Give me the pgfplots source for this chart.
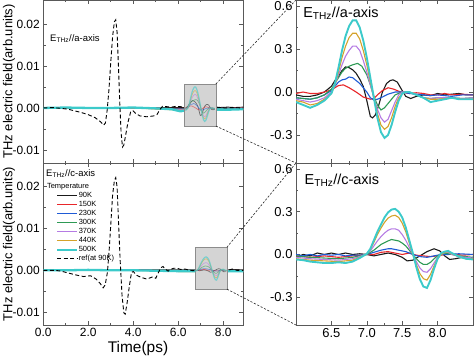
\documentclass[border=0pt]{standalone}
\usepackage{fontspec}
\setmainfont{Liberation Sans}
\usepackage{pgfplots}
\pgfplotsset{compat=1.18}
\usepackage{pgfplotstable}

\definecolor{cK}{HTML}{1A1A1A}
\definecolor{cR}{HTML}{E8262A}
\definecolor{cB}{HTML}{1F5BD6}
\definecolor{cG}{HTML}{2E9A55}
\definecolor{cP}{HTML}{B57BE3}
\definecolor{cO}{HTML}{D4A22A}
\definecolor{cT}{HTML}{3CCACA}

% ---------- a-axis (zoom) ----------
\pgfplotstableread[row sep=\\]{t v\\
6.0 -0.02\\ 6.1 -0.03\\ 6.2 -0.03\\ 6.3 -0.02\\ 6.4 0.0\\ 6.5 0.04\\ 6.55 0.08\\ 6.6 0.11\\ 6.65 0.15\\ 6.7 0.175\\ 6.75 0.17\\ 6.8 0.155\\ 6.85 0.13\\ 6.9 0.09\\ 6.95 0.04\\ 7.0 -0.06\\ 7.05 -0.17\\ 7.08 -0.18\\ 7.12 -0.16\\ 7.17 -0.09\\ 7.22 0.0\\ 7.28 0.06\\ 7.33 0.08\\ 7.37 0.085\\ 7.43 0.07\\ 7.5 0.01\\ 7.55 -0.03\\ 7.62 -0.045\\ 7.7 -0.03\\ 7.8 -0.02\\ 7.9 -0.025\\ 8.0 -0.01\\ 8.1 -0.02\\ 8.2 -0.015\\ 8.3 -0.01\\ 8.4 -0.02\\ 8.5 -0.02\\
}\aK
\pgfplotstableread[row sep=\\]{t v\\
6.0 -0.01\\ 6.1 0.0\\ 6.2 -0.01\\ 6.3 -0.01\\ 6.4 0.0\\ 6.5 0.015\\ 6.6 0.045\\ 6.67 0.05\\ 6.75 0.03\\ 6.85 0.0\\ 6.95 -0.035\\ 7.05 -0.05\\ 7.1 -0.045\\ 7.15 -0.02\\ 7.22 0.01\\ 7.3 0.03\\ 7.38 0.02\\ 7.48 0.0\\ 7.6 -0.01\\ 7.7 -0.005\\ 7.8 -0.01\\ 7.9 -0.02\\ 8.0 -0.02\\ 8.1 -0.01\\ 8.2 -0.02\\ 8.35 -0.015\\ 8.5 -0.02\\
}\aR
\pgfplotstableread[row sep=\\]{t v\\
6.0 -0.04\\ 6.1 -0.045\\ 6.2 -0.05\\ 6.3 -0.04\\ 6.4 -0.02\\ 6.5 0.01\\ 6.6 0.07\\ 6.65 0.085\\ 6.7 0.09\\ 6.75 0.105\\ 6.8 0.10\\ 6.85 0.08\\ 6.9 0.06\\ 6.95 0.03\\ 7.0 0.0\\ 7.05 -0.04\\ 7.1 -0.056\\ 7.15 -0.05\\ 7.2 -0.04\\ 7.3 -0.015\\ 7.4 0.0\\ 7.5 0.0\\ 7.6 -0.01\\ 7.7 -0.015\\ 7.8 -0.02\\ 7.9 -0.025\\ 8.0 -0.02\\ 8.1 -0.025\\ 8.2 -0.03\\ 8.35 -0.02\\ 8.5 -0.02\\
}\aB
\pgfplotstableread[row sep=\\]{t v\\
6.0 -0.04\\ 6.1 -0.045\\ 6.2 -0.05\\ 6.3 -0.04\\ 6.4 -0.02\\ 6.5 0.02\\ 6.6 0.10\\ 6.65 0.14\\ 6.7 0.165\\ 6.75 0.18\\ 6.8 0.19\\ 6.87 0.20\\ 6.93 0.18\\ 7.0 0.12\\ 7.05 0.05\\ 7.1 -0.03\\ 7.15 -0.09\\ 7.2 -0.125\\ 7.25 -0.11\\ 7.3 -0.08\\ 7.35 -0.05\\ 7.4 -0.02\\ 7.5 0.0\\ 7.6 0.0\\ 7.7 -0.02\\ 7.8 -0.04\\ 7.9 -0.045\\ 8.0 -0.04\\ 8.2 -0.04\\ 8.35 -0.045\\ 8.5 -0.04\\
}\aG
\pgfplotstableread[row sep=\\]{t v\\
6.0 -0.05\\ 6.1 -0.06\\ 6.2 -0.07\\ 6.3 -0.06\\ 6.4 -0.04\\ 6.5 0.0\\ 6.55 0.05\\ 6.6 0.12\\ 6.65 0.19\\ 6.7 0.25\\ 6.75 0.29\\ 6.8 0.32\\ 6.85 0.32\\ 6.9 0.29\\ 6.95 0.22\\ 7.0 0.14\\ 7.05 0.05\\ 7.1 -0.04\\ 7.15 -0.12\\ 7.2 -0.18\\ 7.25 -0.21\\ 7.3 -0.19\\ 7.35 -0.13\\ 7.4 -0.07\\ 7.45 -0.02\\ 7.5 0.0\\ 7.6 0.0\\ 7.7 -0.02\\ 7.8 -0.04\\ 7.9 -0.045\\ 8.0 -0.04\\ 8.2 -0.04\\ 8.35 -0.045\\ 8.5 -0.04\\
}\aP
\pgfplotstableread[row sep=\\]{t v\\
6.0 -0.06\\ 6.1 -0.07\\ 6.2 -0.09\\ 6.3 -0.08\\ 6.4 -0.05\\ 6.5 -0.01\\ 6.55 0.05\\ 6.6 0.14\\ 6.65 0.24\\ 6.7 0.32\\ 6.75 0.38\\ 6.8 0.41\\ 6.85 0.41\\ 6.9 0.37\\ 6.95 0.29\\ 7.0 0.19\\ 7.05 0.07\\ 7.1 -0.04\\ 7.15 -0.15\\ 7.2 -0.23\\ 7.25 -0.26\\ 7.3 -0.24\\ 7.35 -0.18\\ 7.4 -0.10\\ 7.45 -0.04\\ 7.5 -0.01\\ 7.55 0.0\\ 7.6 0.0\\ 7.7 -0.02\\ 7.8 -0.04\\ 7.9 -0.05\\ 8.0 -0.05\\ 8.2 -0.04\\ 8.35 -0.05\\ 8.5 -0.05\\
}\aO
\pgfplotstableread[row sep=\\]{t v\\
6.0 -0.07\\ 6.1 -0.09\\ 6.2 -0.11\\ 6.3 -0.09\\ 6.4 -0.06\\ 6.5 -0.01\\ 6.55 0.06\\ 6.6 0.17\\ 6.65 0.29\\ 6.7 0.39\\ 6.75 0.46\\ 6.8 0.50\\ 6.85 0.50\\ 6.9 0.45\\ 6.95 0.36\\ 7.0 0.24\\ 7.05 0.10\\ 7.1 -0.04\\ 7.15 -0.18\\ 7.2 -0.28\\ 7.25 -0.32\\ 7.3 -0.30\\ 7.35 -0.23\\ 7.4 -0.14\\ 7.45 -0.06\\ 7.5 -0.01\\ 7.55 0.0\\ 7.6 0.0\\ 7.7 -0.02\\ 7.8 -0.04\\ 7.9 -0.07\\ 8.0 -0.06\\ 8.1 -0.05\\ 8.2 -0.04\\ 8.3 -0.05\\ 8.4 -0.05\\ 8.5 -0.05\\
}\aT

% ---------- c-axis (zoom) ----------
\pgfplotstableread[row sep=\\]{t v\\
6.0 -0.02\\ 6.1 0.0\\ 6.2 -0.01\\ 6.3 0.01\\ 6.4 0.0\\ 6.5 0.01\\ 6.6 0.0\\ 6.7 0.01\\ 6.8 0.0\\ 6.9 0.005\\ 7.0 0.0\\ 7.1 -0.01\\ 7.2 0.0\\ 7.3 0.01\\ 7.4 0.0\\ 7.5 -0.02\\ 7.57 -0.045\\ 7.65 -0.04\\ 7.75 -0.01\\ 7.85 0.02\\ 7.95 0.04\\ 8.03 0.025\\ 8.1 -0.01\\ 8.17 -0.035\\ 8.25 -0.03\\ 8.35 -0.02\\ 8.42 -0.03\\ 8.5 -0.02\\
}\cK
\pgfplotstableread[row sep=\\]{t v\\
6.0 -0.01\\ 6.2 -0.02\\ 6.4 -0.01\\ 6.6 -0.02\\ 6.8 -0.01\\ 7.0 0.0\\ 7.1 0.0\\ 7.2 0.015\\ 7.3 0.02\\ 7.4 0.01\\ 7.5 0.0\\ 7.6 0.01\\ 7.7 -0.005\\ 7.8 -0.01\\ 7.9 -0.015\\ 8.0 -0.01\\ 8.1 0.0\\ 8.2 0.005\\ 8.35 -0.005\\ 8.5 0.0\\
}\cR
\pgfplotstableread[row sep=\\]{t v\\
6.0 0.0\\ 6.1 -0.01\\ 6.2 0.0\\ 6.3 -0.01\\ 6.4 0.0\\ 6.5 -0.005\\ 6.6 0.0\\ 6.7 -0.01\\ 6.8 -0.005\\ 6.9 -0.005\\ 7.0 0.0\\ 7.1 0.015\\ 7.2 0.03\\ 7.3 0.04\\ 7.35 0.04\\ 7.45 0.03\\ 7.55 0.02\\ 7.65 0.0\\ 7.75 -0.015\\ 7.85 -0.02\\ 7.95 -0.01\\ 8.05 0.0\\ 8.15 0.0\\ 8.3 0.005\\ 8.5 0.0\\
}\cB
\pgfplotstableread[row sep=\\]{t v\\
6.0 -0.01\\ 6.2 -0.02\\ 6.4 -0.025\\ 6.6 -0.03\\ 6.8 -0.02\\ 6.9 -0.01\\ 7.0 0.0\\ 7.1 0.03\\ 7.2 0.07\\ 7.3 0.095\\ 7.35 0.105\\ 7.4 0.10\\ 7.45 0.095\\ 7.5 0.08\\ 7.55 0.06\\ 7.6 0.03\\ 7.65 0.0\\ 7.7 -0.03\\ 7.75 -0.055\\ 7.8 -0.07\\ 7.85 -0.07\\ 7.9 -0.055\\ 7.95 -0.03\\ 8.0 -0.01\\ 8.1 0.01\\ 8.2 0.0\\ 8.3 -0.01\\ 8.5 -0.02\\
}\cG
\pgfplotstableread[row sep=\\]{t v\\
6.0 -0.02\\ 6.2 -0.03\\ 6.4 -0.035\\ 6.6 -0.04\\ 6.8 -0.03\\ 6.9 -0.015\\ 7.0 0.005\\ 7.05 0.025\\ 7.1 0.06\\ 7.15 0.095\\ 7.2 0.125\\ 7.25 0.15\\ 7.3 0.17\\ 7.35 0.18\\ 7.4 0.18\\ 7.45 0.17\\ 7.5 0.14\\ 7.55 0.10\\ 7.6 0.05\\ 7.65 0.0\\ 7.7 -0.05\\ 7.75 -0.095\\ 7.8 -0.12\\ 7.85 -0.125\\ 7.9 -0.10\\ 7.95 -0.06\\ 8.0 -0.02\\ 8.05 0.0\\ 8.1 0.015\\ 8.15 0.015\\ 8.2 0.0\\ 8.3 -0.015\\ 8.5 -0.025\\
}\cP
\pgfplotstableread[row sep=\\]{t v\\
6.0 -0.03\\ 6.2 -0.04\\ 6.4 -0.045\\ 6.6 -0.05\\ 6.8 -0.04\\ 6.9 -0.02\\ 7.0 0.005\\ 7.05 0.035\\ 7.1 0.085\\ 7.15 0.14\\ 7.2 0.185\\ 7.25 0.225\\ 7.3 0.255\\ 7.35 0.27\\ 7.4 0.275\\ 7.45 0.26\\ 7.5 0.22\\ 7.55 0.16\\ 7.6 0.08\\ 7.65 0.0\\ 7.7 -0.07\\ 7.75 -0.135\\ 7.8 -0.17\\ 7.85 -0.18\\ 7.9 -0.14\\ 7.95 -0.08\\ 8.0 -0.03\\ 8.05 0.0\\ 8.1 0.015\\ 8.15 0.02\\ 8.2 0.005\\ 8.3 -0.015\\ 8.4 -0.03\\ 8.5 -0.03\\
}\cO
\pgfplotstableread[row sep=\\]{t v\\
6.0 -0.035\\ 6.1 -0.04\\ 6.2 -0.05\\ 6.3 -0.055\\ 6.4 -0.06\\ 6.5 -0.06\\ 6.6 -0.055\\ 6.7 -0.06\\ 6.8 -0.05\\ 6.9 -0.025\\ 7.0 0.005\\ 7.05 0.04\\ 7.1 0.10\\ 7.15 0.16\\ 7.2 0.21\\ 7.25 0.26\\ 7.3 0.295\\ 7.35 0.315\\ 7.4 0.32\\ 7.45 0.30\\ 7.5 0.26\\ 7.55 0.19\\ 7.6 0.10\\ 7.65 0.01\\ 7.7 -0.09\\ 7.75 -0.175\\ 7.8 -0.225\\ 7.85 -0.235\\ 7.9 -0.18\\ 7.95 -0.10\\ 8.0 -0.03\\ 8.05 0.01\\ 8.1 0.02\\ 8.15 0.025\\ 8.2 0.01\\ 8.3 -0.015\\ 8.4 -0.03\\ 8.5 -0.035\\
}\cT

% ---------- reference pulses ----------
\pgfplotstableread[row sep=\\]{t v\\
0 0\\ 0.4 0.0001\\ 0.8 -0.0001\\ 1.1 -0.0003\\ 1.4 -0.0007\\ 1.7 -0.0011\\ 2.0 -0.0016\\ 2.3 -0.0023\\ 2.55 -0.0033\\ 2.68 -0.0041\\ 2.76 -0.0036\\ 2.84 -0.0005\\ 2.92 0.0045\\ 3.0 0.011\\ 3.08 0.017\\ 3.16 0.0205\\ 3.22 0.0210\\ 3.28 0.018\\ 3.34 0.010\\ 3.40 0.001\\ 3.46 -0.006\\ 3.52 -0.0093\\ 3.58 -0.0088\\ 3.66 -0.0065\\ 3.76 -0.0035\\ 3.88 -0.0010\\ 3.98 -0.0006\\ 4.1 -0.0013\\ 4.3 -0.0019\\ 4.6 -0.0021\\ 4.9 -0.0019\\ 5.05 -0.0016\\ 5.18 -0.0004\\ 5.3 0.0004\\ 5.5 0.0003\\ 5.7 0.0002\\ 5.9 0.0004\\ 6.1 0.0003\\ 6.3 0.0001\\ 6.6 0.0004\\ 6.9 0.0003\\ 7.2 0.0002\\ 7.5 0.0001\\ 7.7 0.0002\\ 7.9 0.0001\\ 8.1 0.0\\ 8.4 0.0001\\ 8.89 0.0\\
}\refA
\pgfplotstableread[row sep=\\]{t v\\
0 0\\ 0.5 0.0\\ 0.8 -0.0002\\ 1.0 -0.0005\\ 1.3 -0.0009\\ 1.6 -0.0013\\ 1.8 -0.0015\\ 2.1 -0.0013\\ 2.35 -0.0021\\ 2.55 -0.0033\\ 2.66 -0.0042\\ 2.75 -0.0035\\ 2.85 -0.0005\\ 2.93 0.005\\ 3.0 0.011\\ 3.08 0.018\\ 3.16 0.0215\\ 3.22 0.0222\\ 3.28 0.020\\ 3.34 0.012\\ 3.42 0.002\\ 3.5 -0.006\\ 3.58 -0.0102\\ 3.64 -0.0105\\ 3.72 -0.008\\ 3.82 -0.004\\ 3.92 -0.0005\\ 4.0 -0.0003\\ 4.15 -0.0012\\ 4.35 -0.0017\\ 4.6 -0.0021\\ 4.85 -0.0016\\ 5.0 -0.0019\\ 5.12 -0.0005\\ 5.22 0.0006\\ 5.32 0.0009\\ 5.42 0.0003\\ 5.55 -0.0002\\ 5.65 0.0002\\ 5.8 0.0005\\ 5.95 0.0005\\ 6.1 0.0002\\ 6.3 0.0003\\ 6.5 0.0\\ 6.7 -0.0001\\ 7.0 0.0001\\ 7.5 0.0\\ 8.0 0.0001\\ 8.2 0.0\\ 8.4 0.0003\\ 8.6 0.0\\ 8.89 0.0\\
}\refC

\pgfplotsset{
  panel/.style={scale only axis, anchor=south west,
    axis line style={black!65, line width=0.8bp},
    tick style={black!65, line width=0.6bp},
    tick align=inside, major tick length=4bp, minor tick length=2.2bp,
    scaled y ticks=false, scaled x ticks=false},
  left panel/.style={panel, width=200bp, xmin=0, xmax=8.89,
    ymin=-0.0131, ymax=0.0257,
    xtick={0,2,4,6,8}, minor x tick num=1,
    ytick={-0.01,0,0.01,0.02}, minor y tick num=1,
    yticklabels={-0.01,0.00,0.01,0.02},
    ticklabel style={font=\fontsize{12}{12}\selectfont},
    ylabel={THz electric field(arb.units)},
    ylabel style={at={(axis description cs:-0.171,0.5)}, anchor=center, font=\fontsize{13}{13}\selectfont}},
  right panel/.style={panel, width=177bp, xmin=6, xmax=8.5,
    ymin=-0.495, ymax=0.642,
    xtick={6.5,7,7.5,8}, minor x tick num=1,
    ytick={-0.3,0,0.3,0.6}, minor y tick num=1,
    yticklabels={-0.3,0.0,0.3,0.6},
    ticklabel style={font=\fontsize{13}{13}\selectfont}},
  zk/.style={cK, line width=1.1bp},
  zr/.style={cR, line width=1.1bp},
  zb/.style={cB, line width=1.1bp},
  zg/.style={cG, line width=1.1bp},
  zp/.style={cP, line width=1.1bp},
  zo/.style={cO, line width=1.1bp},
  zt/.style={cT, line width=1.9bp},
}

\begin{document}
\begin{tikzpicture}

% ================= top left =================
\begin{axis}[left panel, at={(43.3bp,195bp)}, height=163bp, xticklabels={}]
\addplot[cK, line width=0.9bp] coordinates {(0,0.0001) (2,0.0001) (4,0) (6,0.0001) (7.8,0.0001) (8.2,0.0002) (8.5,0.0001) (8.89,0.0002)};
\addplot[cR, line width=0.9bp] coordinates {(0,0) (4,0) (6,-0.0001) (8,-0.0001) (8.89,0)};
\addplot[cB, line width=0.9bp] coordinates {(0,0) (4,0) (6,-0.0002) (8,-0.0001) (8.89,-0.0001)};
\addplot[cG, line width=0.9bp] coordinates {(0,0) (4,0) (6,-0.0003) (8,-0.0002) (8.89,-0.0002)};
\addplot[cP, line width=0.9bp] coordinates {(0,0) (4,0) (6,-0.0004) (8,-0.0003) (8.89,-0.0002)};
\addplot[cO, line width=0.9bp] coordinates {(0,0) (4,0) (6,-0.0005) (8,-0.0003) (8.89,-0.0003)};
\addplot[cT, line width=2.3bp] coordinates {(0,0) (1,0.0001) (2,0) (3,0) (4,0.0001) (5,-0.0001) (5.7,-0.0003) (6.1,-0.0008) (6.4,-0.0005) (7,-0.0003) (7.7,-0.0004) (8.3,-0.0004) (8.89,-0.0003)};
\addplot[black, line width=0.9bp, dash pattern=on 4bp off 2.5bp] table[x=t,y=v] {\refA};
\draw[black!45, line width=0.6bp, fill=black!17] (axis cs:6.25,-0.0043) rectangle (axis cs:7.67,0.0057);
\addplot[cK, line width=0.7bp, opacity=0.55, forget plot, restrict x to domain=6.25:7.67] table[x expr=\thisrow{t}-0.08, y expr=0.01*\thisrow{v}] {\aK};
\addplot[cR, line width=0.7bp, opacity=0.55, forget plot, restrict x to domain=6.25:7.67] table[x expr=\thisrow{t}-0.08, y expr=0.01*\thisrow{v}] {\aR};
\addplot[cB, line width=0.7bp, opacity=0.55, forget plot, restrict x to domain=6.25:7.67] table[x expr=\thisrow{t}-0.08, y expr=0.01*\thisrow{v}] {\aB};
\addplot[cG, line width=0.7bp, opacity=0.55, forget plot, restrict x to domain=6.25:7.67] table[x expr=\thisrow{t}-0.08, y expr=0.01*\thisrow{v}] {\aG};
\addplot[cP, line width=0.7bp, opacity=0.55, forget plot, restrict x to domain=6.25:7.67] table[x expr=\thisrow{t}-0.08, y expr=0.01*\thisrow{v}] {\aP};
\addplot[cO, line width=0.7bp, opacity=0.55, forget plot, restrict x to domain=6.25:7.67] table[x expr=\thisrow{t}-0.08, y expr=0.01*\thisrow{v}] {\aO};
\addplot[cT, line width=1.2bp, opacity=0.6, forget plot, restrict x to domain=6.25:7.67] table[x expr=\thisrow{t}-0.08, y expr=0.01*\thisrow{v}] {\aT};
\coordinate (TA) at (axis cs:7.67,0.0057);
\coordinate (TB) at (axis cs:7.67,-0.0043);
\node[anchor=west, inner sep=0pt, font=\fontsize{9.5}{10}\selectfont] at (axis cs:0.3,0.0165) {E\textsubscript{THz}//a-axis};
\end{axis}

% ================= bottom left =================
\begin{axis}[left panel, at={(43.3bp,33bp)}, height=162bp,
  xticklabels={0.0,2.0,4.0,6.0,8.0},
  xlabel={Time(ps)},
  xlabel style={at={(axis description cs:0.4735,-0.145)}, anchor=center, font=\fontsize{15.5}{16}\selectfont},
  legend cell align=left,
  legend style={at={(0.062,0.826)}, anchor=north west, draw=none, fill=none, inner sep=0pt,
    font=\fontsize{7.5}{8}\selectfont,
    nodes={inner sep=0.6bp, text height=6bp, text depth=1.8bp}},
  legend image code/.code={\draw[#1] (0bp,0bp) -- (20bp,0bp);}]
\addplot[cK, line width=0.9bp] coordinates {(0,0.0001) (2,0) (4,0.0001) (6,0.0001) (8.2,0.0001) (8.5,0.0002) (8.89,0.0001)};
\addplot[cR, line width=0.9bp] coordinates {(0,0) (4,0) (6,-0.0001) (8,0) (8.89,0)};
\addplot[cB, line width=0.9bp] coordinates {(0,0) (4,0) (6,-0.0001) (8,-0.0001) (8.89,-0.0001)};
\addplot[cG, line width=0.9bp] coordinates {(0,0) (4,0) (6,-0.0002) (8,-0.0002) (8.89,-0.0001)};
\addplot[cP, line width=0.9bp] coordinates {(0,0) (4,0) (6,-0.0002) (8,-0.0002) (8.89,-0.0002)};
\addplot[cO, line width=0.9bp] coordinates {(0,0) (4,0) (6,-0.0003) (8,-0.0003) (8.89,-0.0002)};
\addplot[cT, line width=2.3bp] coordinates {(0,0) (1,0) (2,0.0001) (3,0) (4,0) (5,-0.0001) (6,-0.0002) (7,-0.0002) (8,-0.0002) (8.89,-0.0002)};
\addplot[black, line width=0.9bp, dash pattern=on 4bp off 2.5bp] table[x=t,y=v] {\refC};
\legend{90K,150K,230K,300K,370K,440K,500K,ref(at 90K)}
\draw[black!45, line width=0.6bp, fill=black!17] (axis cs:6.74,-0.0045) rectangle (axis cs:8.16,0.0055);
\addplot[cK, line width=0.7bp, opacity=0.55, forget plot, restrict x to domain=6.74:8.16] table[x expr=\thisrow{t}-0.15, y expr=0.01*\thisrow{v}] {\cK};
\addplot[cR, line width=0.7bp, opacity=0.55, forget plot, restrict x to domain=6.74:8.16] table[x expr=\thisrow{t}-0.15, y expr=0.01*\thisrow{v}] {\cR};
\addplot[cB, line width=0.7bp, opacity=0.55, forget plot, restrict x to domain=6.74:8.16] table[x expr=\thisrow{t}-0.15, y expr=0.01*\thisrow{v}] {\cB};
\addplot[cG, line width=0.7bp, opacity=0.55, forget plot, restrict x to domain=6.74:8.16] table[x expr=\thisrow{t}-0.15, y expr=0.01*\thisrow{v}] {\cG};
\addplot[cP, line width=0.7bp, opacity=0.55, forget plot, restrict x to domain=6.74:8.16] table[x expr=\thisrow{t}-0.15, y expr=0.01*\thisrow{v}] {\cP};
\addplot[cO, line width=0.7bp, opacity=0.55, forget plot, restrict x to domain=6.74:8.16] table[x expr=\thisrow{t}-0.15, y expr=0.01*\thisrow{v}] {\cO};
\addplot[cT, line width=1.2bp, opacity=0.6, forget plot, restrict x to domain=6.74:8.16] table[x expr=\thisrow{t}-0.15, y expr=0.01*\thisrow{v}] {\cT};
\coordinate (BA) at (axis cs:8.16,0.0055);
\coordinate (BB) at (axis cs:8.16,-0.0045);
\node[anchor=west, inner sep=0pt, font=\fontsize{9.5}{10}\selectfont] at (axis cs:0.12,0.0232) {E\textsubscript{THz}//c-axis};
\node[anchor=west, inner sep=0pt, font=\fontsize{7.5}{8}\selectfont] at (axis cs:0.16,0.0200) {Temperature};
\end{axis}

% ================= top right =================
\begin{axis}[right panel, at={(296bp,195bp)}, height=163bp, xticklabels={}]
\addplot[zk] table[x=t,y=v] {\aK};
\addplot[zr] table[x=t,y=v] {\aR};
\addplot[zb] table[x=t,y=v] {\aB};
\addplot[zg] table[x=t,y=v] {\aG};
\addplot[zp] table[x=t,y=v] {\aP};
\addplot[zo] table[x=t,y=v] {\aO};
\addplot[zt] table[x=t,y=v] {\aT};
\node[anchor=west, inner sep=0pt, font=\fontsize{14.5}{15}\selectfont] at (axis cs:6.1,0.55) {E\textsubscript{THz}//a-axis};
\end{axis}

% ================= bottom right =================
\begin{axis}[right panel, at={(296bp,33bp)}, height=162bp, xticklabels={6.5,7.0,7.5,8.0}]
\addplot[zk] table[x=t,y=v] {\cK};
\addplot[zr] table[x=t,y=v] {\cR};
\addplot[zb] table[x=t,y=v] {\cB};
\addplot[zg] table[x=t,y=v] {\cG};
\addplot[zp] table[x=t,y=v] {\cP};
\addplot[zo] table[x=t,y=v] {\cO};
\addplot[zt] table[x=t,y=v] {\cT};
\node[anchor=west, inner sep=0pt, font=\fontsize{14.5}{15}\selectfont] at (axis cs:6.12,0.52) {E\textsubscript{THz}//c-axis};
\end{axis}

% connectors
\draw[black!85, line width=0.6bp, dash pattern=on 2.2bp off 1.6bp] (TA) -- (296bp,358bp);
\draw[black!85, line width=0.6bp, dash pattern=on 2.2bp off 1.6bp] (TB) -- (296bp,195bp);
\draw[black!85, line width=0.6bp, dash pattern=on 2.2bp off 1.6bp] (BA) -- (296bp,195bp);
\draw[black!85, line width=0.6bp, dash pattern=on 2.2bp off 1.6bp] (BB) -- (296bp,33bp);

\pgfresetboundingbox
\path[use as bounding box] (0bp,0bp) rectangle (474bp,358bp);
\end{tikzpicture}
\end{document}
